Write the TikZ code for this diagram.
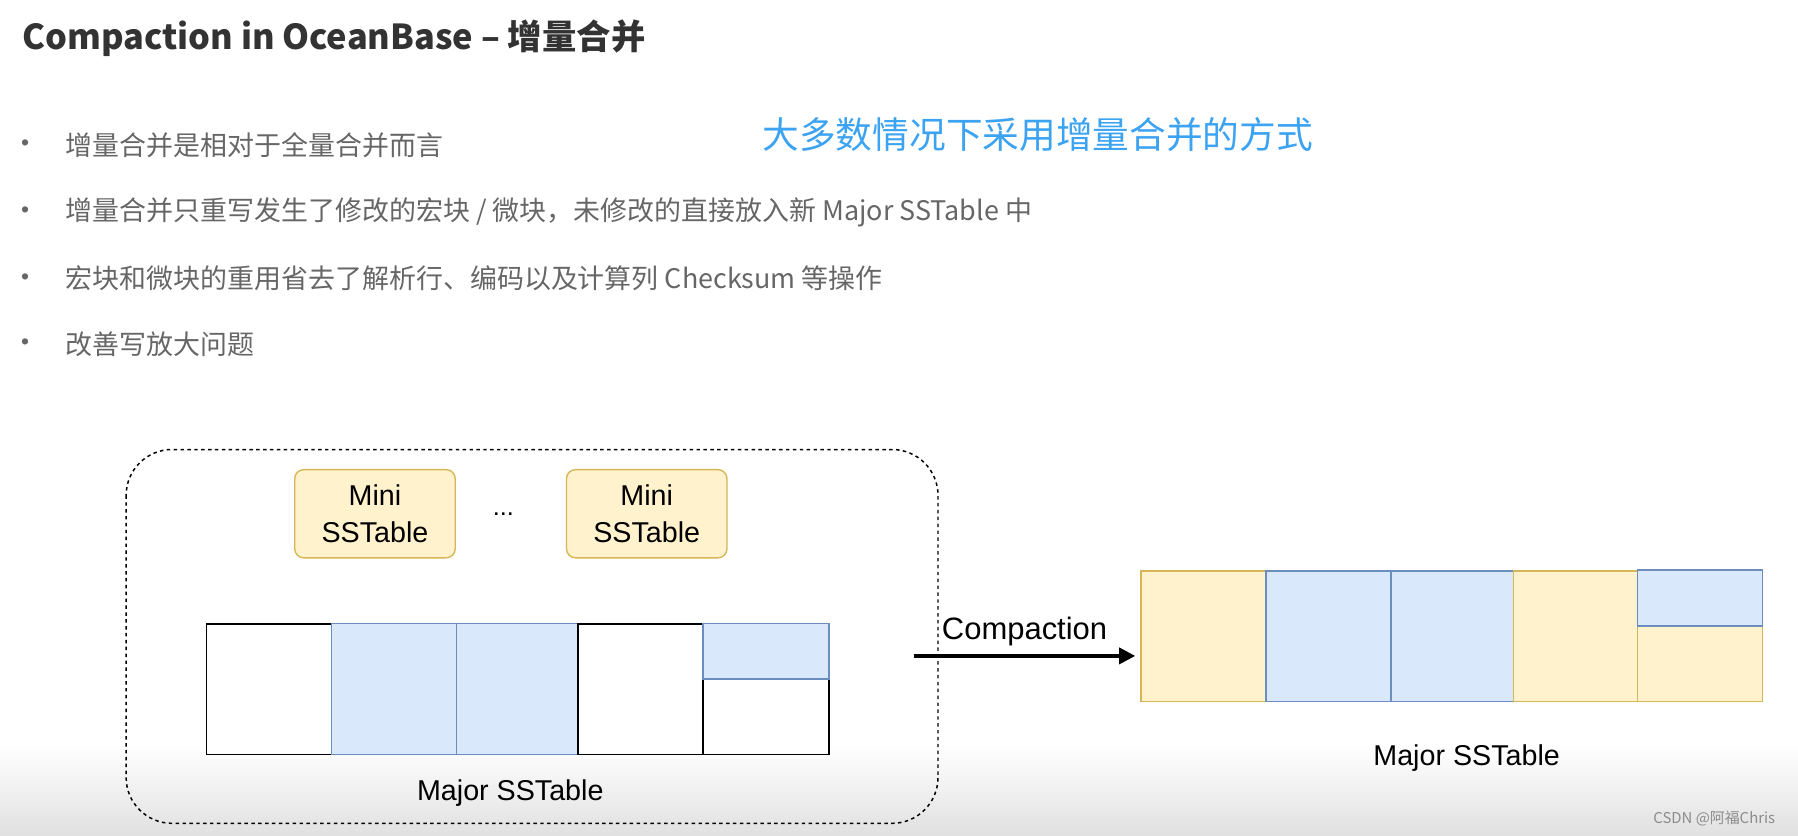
\documentclass[tikz,border=0pt]{standalone}
\usepackage{fontspec}
\setmainfont{Liberation Sans}
\newfontfamily\cjk{Noto Sans CJK SC}
\usetikzlibrary{arrows.meta}
\definecolor{yel}{HTML}{FFF2CC}\definecolor{yeld}{HTML}{D6B656}
\definecolor{blu}{HTML}{DAE8FC}\definecolor{blud}{HTML}{6C8EBF}
\definecolor{txtg}{HTML}{666666}\definecolor{sky}{HTML}{3BA3F2}
\tikzset{
 mini/.style={draw=yeld,fill=yel,rounded corners=8pt,line width=1.2pt,minimum width=140pt,minimum height=77pt,align=center,font=\fontsize{25}{32}\selectfont},
 bl/.style={draw=blud,fill=blu,line width=1.2pt},
 yl/.style={draw=yeld,fill=yel,line width=1.2pt},
 wh/.style={draw=black,fill=white,line width=1.5pt},
 bullet/.style={anchor=west,text=txtg,font=\cjk\fontsize{23.5}{28}\selectfont},
 dot/.style={text=txtg,font=\fontsize{20}{24}\selectfont},
 lbl/.style={font=\fontsize{25}{30}\selectfont}
}
\begin{document}
\begin{tikzpicture}[x=1pt,y=-1pt]
\useasboundingbox (0,0) rectangle (1568,729);
\shade[top color=white,bottom color=black!12] (0,650) rectangle (1568,729);
\node[anchor=west,text=black!80,font=\cjk\bfseries\fontsize{30}{34}\selectfont] (title) at (16,33) {Compaction in OceanBase – 增量合并};
\foreach \y/\t [count=\i] in {127/增量合并是相对于全量合并而言,185/{增量合并只重写发生了修改的宏块 / 微块，未修改的直接放入新 Major SSTable 中},243/宏块和微块的重用省去了解析行、编码以及计算列 Checksum 等操作,300/改善写放大问题}{
 \node[dot] (d\i) at (22,\y) {•};
 \node[bullet] (b\i) at (54,\y) {\t};
}
\node[text=sky,font=\cjk\fontsize{32}{36}\selectfont] (blue) at (905,117) {大多数情况下采用增量合并的方式};
\draw[dashed,line width=1.3pt,rounded corners=40pt] (110,392) rectangle (818,718);
\node[mini] (m1) at (327,448) {Mini\\SSTable};
\node[mini] (m2) at (564,448) {Mini\\SSTable};
\node[font=\fontsize{22}{26}\selectfont] (dots) at (439,448) {...};
% left table
\draw[wh] (180,544) rectangle (289,658);
\draw[bl] (289,544) rectangle (398,658);
\draw[bl] (398,544) rectangle (504,658);
\draw[wh] (504,544) rectangle (613,658);
\draw[wh] (613,592) rectangle (723,658);
\draw[bl] (613,544) rectangle (723,592);
\node[lbl] (lmaj) at (445,692) {Major SSTable};
\coordinate (l) at (797,572); \coordinate (r) at (990,572);
\draw[-{Triangle[length=14pt,width=14pt]},line width=3pt] (l) -- node[above=4pt,font=\fontsize{27}{30}\selectfont]{Compaction} (r);
% right table
\draw[yl] (995,498) rectangle (1104,612);
\draw[bl] (1104,498) rectangle (1213,612);
\draw[bl] (1213,498) rectangle (1320,612);
\draw[yl] (1320,498) rectangle (1428,612);
\draw[yl] (1428,546) rectangle (1537,612);
\draw[bl] (1428,497) rectangle (1537,546);
\node[lbl] (rmaj) at (1279,661) {Major SSTable};
\node[text=black!45,font=\cjk\fontsize{13}{15}\selectfont] (wm) at (1495,714) {CSDN @阿福Chris};
\end{tikzpicture}
\end{document}
